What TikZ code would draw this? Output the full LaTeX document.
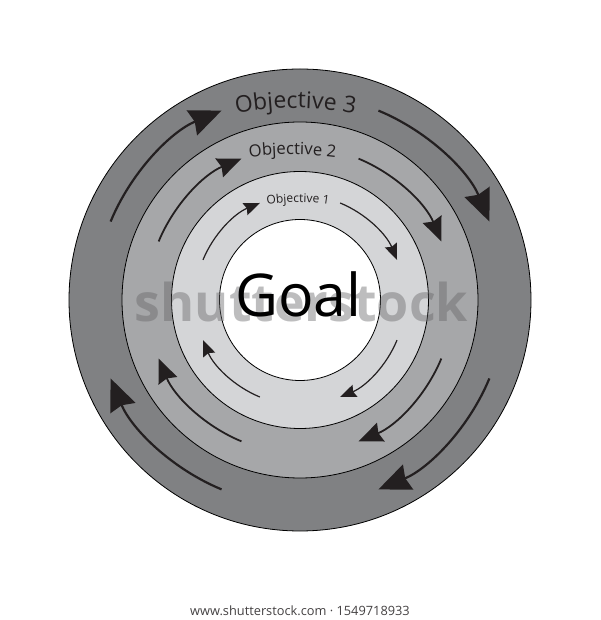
\documentclass[tikz,border=0pt]{standalone}
\usepackage{fontspec}
\setmainfont{Open Sans}
\usetikzlibrary{arrows.meta,decorations.text}
\definecolor{ringC}{RGB}{128,129,131}
\definecolor{ringB}{RGB}{166,167,169}
\definecolor{ringA}{RGB}{212,213,215}
\definecolor{inkdark}{RGB}{35,31,32}
\definecolor{wmgray}{RGB}{100,100,102}
\begin{document}
\begin{tikzpicture}[x=1pt,y=1pt,
  ringdisc/.style={circle, draw=black, line width=0.8pt, inner sep=0pt},
  flowC/.style={draw=inkdark, line width=2.2pt, -{Stealth[length=32pt,width=27pt,inset=3pt]}},
  flowB/.style={draw=inkdark, line width=1.8pt, -{Stealth[length=24pt,width=20pt,inset=2.5pt]}},
  flowA/.style={draw=inkdark, line width=1.2pt, -{Stealth[length=16pt,width=13pt,inset=2pt]}},
  curvelabel/.style={decorate, decoration={text along path, text align=center, text color=inkdark, text={#1}}}
]
\useasboundingbox (-300,-320) rectangle (300,300);
\fill[white] (-300,-320) rectangle (300,300);
% rings
\node[ringdisc, fill=ringC, minimum size=462pt] (ring3) at (0,0) {};
\node[ringdisc, fill=ringB, minimum size=356pt] (ring2) at (0,0) {};
\node[ringdisc, fill=ringA, minimum size=257pt] (ring1) at (0,0) {};
\node[ringdisc, fill=white, minimum size=161pt] (core) at (0,0) {};
% arrows
\foreach \s in {157.5,67.5,-22.5,-112.5}{
  \draw[flowC] (\s:205) arc[start angle=\s, end angle=\s-45, radius=205];
  \draw[flowB] (\s:153) arc[start angle=\s, end angle=\s-45, radius=153];
  \draw[flowA] (\s:105) arc[start angle=\s, end angle=\s-45, radius=105];
}
% curved labels
\path[curvelabel={|\fontsize{23}{27}\selectfont|Objective 3}, shift={(-4.5,-108)}]
  (110:300) arc[start angle=110, end angle=70, radius=300];
\path[curvelabel={|\fontsize{16.7}{20}\selectfont|Objective 2}, shift={(-7.5,-204.5)}]
  (105:350) arc[start angle=105, end angle=75, radius=350];
\path[curvelabel={|\fontsize{12}{14}\selectfont|Objective 1}, shift={(-2,-102.5)}]
  (115:200) arc[start angle=115, end angle=65, radius=200];
% watermark and goal
\node[font=\bfseries\fontsize{52}{52}\selectfont, text=wmgray, opacity=0.42, anchor=base, inner sep=0pt] (wm) at (1.5,-22) {shutterstock};
\node[font=\fontsize{59}{61}\selectfont, text=black, anchor=base, inner sep=0pt] (goal) at (-1.5,-17) {Goal};
% footer
\node[font=\fontsize{12.8}{15}\selectfont, text=inkdark!85, anchor=base, inner sep=0pt] (footer) at (0,-315) {www.shutterstock.com · 1549718933};
\end{tikzpicture}
\end{document}
